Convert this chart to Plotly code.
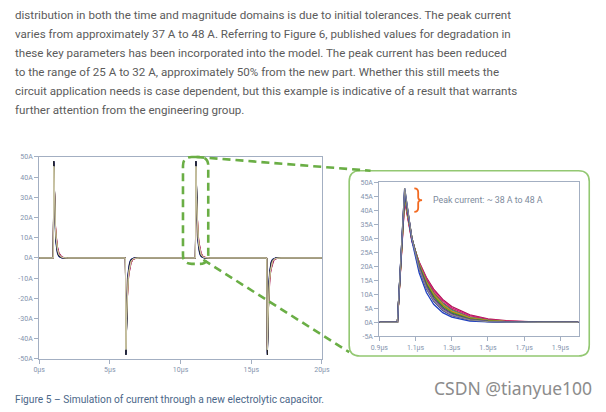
import plotly.graph_objects as go

W, H = 606, 412

# ---------------- data ----------------
# zoomed pulse (inset) time axis, µs
inset_t = [0.9, 1.0, 1.04, 1.08, 1.12, 1.16, 1.2, 1.25, 1.3, 1.4, 1.5, 1.6, 1.8, 2.0]
# Monte-Carlo current traces (A) for one positive pulse
run_01 = [0, 0, 48.0, 29.1, 17.7, 10.7, 6.5, 3.5, 1.9, 0.5, 0.2, 0.0, 0, 0]
run_02 = [0, 0, 47.5, 29.8, 18.9, 12.0, 7.6, 4.3, 2.4, 0.8, 0.3, 0.1, 0, 0]
run_03 = [0, 0, 47.0, 30.2, 19.8, 13.0, 8.5, 5.0, 3.0, 1.0, 0.4, 0.1, 0, 0]
run_04 = [0, 0, 46.5, 30.2, 20.2, 13.6, 9.1, 5.5, 3.3, 1.2, 0.5, 0.2, 0, 0]
run_05 = [0, 0, 46.0, 30.1, 20.5, 14.0, 9.6, 6.0, 3.7, 1.4, 0.6, 0.2, 0, 0]
run_06 = [0, 0, 45.5, 29.9, 20.8, 14.4, 10.0, 6.4, 4.0, 1.6, 0.7, 0.3, 0, 0]
run_07 = [0, 0, 45.0, 29.7, 20.9, 14.8, 10.4, 6.8, 4.4, 1.8, 0.8, 0.3, 0.1, 0]
run_08 = [0, 0, 44.5, 29.4, 21.0, 15.1, 10.8, 7.1, 4.7, 2.0, 0.9, 0.4, 0.1, 0]
run_09 = [0, 0, 44.0, 29.3, 21.4, 15.7, 11.5, 7.8, 5.2, 2.4, 1.1, 0.5, 0.1, 0]
run_10 = [0, 0, 43.5, 29.0, 21.6, 16.0, 11.9, 8.2, 5.7, 2.7, 1.3, 0.6, 0.1, 0]
run_11 = [0, 0, 48.0, 30.0, 19.2, 12.3, 7.9, 4.5, 2.6, 0.9, 0.3, 0.1, 0, 0]
run_12 = [0, 0, 45.5, 29.8, 20.7, 14.5, 10.1, 6.6, 4.2, 1.7, 0.7, 0.3, 0.1, 0]

# inset drawing order / colours
inset_runs = [run_10, run_09, run_08, run_12, run_07, run_06, run_05, run_04, run_03, run_02, run_01, run_11]
inset_colors = ["#b0134a", "#c8208a", "#d42a2a", "#d8c040", "#2a8a8a", "#e08a20",
                "#8a8a20", "#2e8b2e", "#6a2a9a", "#2a2a8a", "#2040c0", "#8a8a8a"]
# main-chart drawing order / colours (pale run on top, as in the picture)
main_runs = [run_10, run_08, run_06, run_04, run_03, run_02, run_09, run_05, run_01, run_11, run_07, run_12]
main_colors = ["#a01848", "#c03030", "#d0a020", "#3a7a3a", "#6a2a9a", "#2a2a7a",
               "#b02080", "#7a7a20", "#2a3aa0", "#222222", "#c8b860", "#cdc9b2"]

# pulse edges in the full simulation (µs) and their polarity
pulse_edges = [1.0, 6.1, 11.05, 16.1]
pulse_signs = [1, -1, 1, -1]
sim_end = 20.0

main_xticks = [0, 5, 10, 15, 20]
main_xtext = ["0µs", "5µs", "10µs", "15µs", "20µs"]
main_yticks = [-50, -40, -30, -20, -10, 0, 10, 20, 30, 40, 50]
main_ytext = ["-50A", "-40A", "-30A", "-20A", "-10A", "0A", "10A", "20A", "30A", "40A", "50A"]
inset_xticks = [0.9, 1.1, 1.3, 1.5, 1.7, 1.9]
inset_xtext = ["0.9µs", "1.1µs", "1.3µs", "1.5µs", "1.7µs", "1.9µs"]
inset_yticks = [-5, 0, 5, 10, 15, 20, 25, 30, 35, 40, 45, 50]
inset_ytext = ["-5A", "0A", "5A", "10A", "15A", "20A", "25A", "30A", "35A", "40A", "45A", "50A"]

paragraph = [
    "distribution in both the time and magnitude domains is due to initial tolerances. The peak current",
    "varies from approximately 37 A to 48 A. Referring to Figure 6, published values for degradation in",
    "these key parameters has been incorporated into the model. The peak current has been reduced",
    "to the range of 25 A to 32 A, approximately 50% from the new part. Whether this still meets the",
    "circuit application needs is case dependent, but this example is indicative of a result that warrants",
    "further attention from the engineering group.",
]
caption = "Figure 5 \u2013 Simulation of current through a new electrolytic capacitor."
peak_note = "Peak current: ~ 38 A to 48 A"
watermark = "CSDN @tianyue100"

# ---------------- helpers ----------------
def px(x):
    return x / W

def py(y):
    return 1 - y / H

def ppath(cmds):
    s = ""
    for cmd, ps in cmds:
        s += cmd + " " + " ".join(f"{px(a):.5f},{py(b):.5f}" for a, b in ps) + " "
    return s

def rrect(x0, y0, x1, y1, r):
    return ppath([
        ("M", [(x0 + r, y0)]), ("L", [(x1 - r, y0)]), ("Q", [(x1, y0), (x1, y0 + r)]),
        ("L", [(x1, y1 - r)]), ("Q", [(x1, y1), (x1 - r, y1)]), ("L", [(x0 + r, y1)]),
        ("Q", [(x0, y1), (x0, y1 - r)]), ("L", [(x0, y0 + r)]), ("Q", [(x0, y0), (x0 + r, y0)]),
    ]) + "Z"

AXC = "#a3afc2"
TKC = "#8493ad"

fig = go.Figure()

# main chart traces (full 20 µs)
for vals, col in zip(main_runs, main_colors):
    xs, ys = [0.0], [0.0]
    for e, sgn in zip(pulse_edges, pulse_signs):
        for t, v in zip(inset_t[1:], vals[1:]):
            xs.append(e + (t - 1.0))
            ys.append(sgn * v)
    xs.append(sim_end)
    ys.append(0.0)
    fig.add_trace(go.Scatter(x=xs, y=ys, mode="lines", line=dict(color=col, width=1),
                             xaxis="x", yaxis="y", showlegend=False, hoverinfo="skip"))

# inset traces
for vals, col in zip(inset_runs, inset_colors):
    fig.add_trace(go.Scatter(x=inset_t, y=vals, mode="lines", line=dict(color=col, width=1.3),
                             xaxis="x2", yaxis="y2", showlegend=False, hoverinfo="skip"))

axis_common = dict(showgrid=False, zeroline=False, showline=True, linecolor=AXC, linewidth=1,
                   mirror=True, ticks="outside", ticklen=4, tickcolor=AXC, tickwidth=1,
                   tickfont=dict(family="Roboto", size=7, color=TKC), fixedrange=True)

fig.update_layout(
    width=W, height=H, margin=dict(l=0, r=0, t=0, b=0),
    paper_bgcolor="white", plot_bgcolor="rgba(0,0,0,0)",
    xaxis=dict(domain=[px(31), px(322)], range=[0, 20], anchor="y",
               tickmode="array", tickvals=main_xticks, ticktext=main_xtext, **axis_common),
    yaxis=dict(domain=[py(362), py(156)], range=[-50, 50], anchor="x",
               tickmode="array", tickvals=main_yticks, ticktext=main_ytext, **axis_common),
    xaxis2=dict(domain=[px(381), px(586)], range=[0.9, 2.0], anchor="y2",
                tickmode="array", tickvals=inset_xticks, ticktext=inset_xtext, **axis_common),
    yaxis2=dict(domain=[py(339), py(182)], range=[-5, 50], anchor="x2",
                tickmode="array", tickvals=inset_yticks, ticktext=inset_ytext, **axis_common),
)

GREEN = "#6aae45"
shapes = [
    dict(type="path", xref="paper", yref="paper", path=rrect(350, 170, 597, 359, 11),
         line=dict(color="#93c872", width=1.6), layer="below"),
    dict(type="path", xref="paper", yref="paper", path=rrect(179, 156, 205, 265, 9),
         line=dict(color=GREEN, width=2.6, dash="8px,5px"), layer="above"),
    dict(type="path", xref="paper", yref="paper", path=ppath([("M", [(193, 156)]), ("L", [(372, 170)])]),
         line=dict(color=GREEN, width=2.6, dash="8px,5px"), layer="above"),
    dict(type="path", xref="paper", yref="paper", path=ppath([("M", [(200, 261)]), ("L", [(350, 355)])]),
         line=dict(color=GREEN, width=2.6, dash="8px,5px"), layer="above"),
    dict(type="path", xref="paper", yref="paper",
         path=ppath([("M", [(417, 188)]), ("Q", [(421, 188), (421, 192)]), ("L", [(421, 197)]),
                     ("Q", [(421, 200), (425, 200)]), ("Q", [(421, 200), (421, 203)]),
                     ("L", [(421, 208)]), ("Q", [(421, 212), (417, 212)])]),
         line=dict(color="#f26a21", width=1.8), layer="above"),
]
fig.update_layout(shapes=shapes)

annotations = []
line_y = [11, 30.5, 50, 69.5, 89, 108.5]
for txt, yy in zip(paragraph, line_y):
    annotations.append(dict(text=txt, x=px(4), y=py(yy), xref="paper", yref="paper",
                            xanchor="left", yanchor="middle", showarrow=False,
                            font=dict(family="Roboto", size=11.6, color="#5b5b5b")))
annotations.append(dict(text=caption, x=px(4), y=py(403), xref="paper", yref="paper",
                        xanchor="left", yanchor="middle", showarrow=False,
                        font=dict(family="Roboto", size=10.2, color="#4b6789")))
annotations.append(dict(text=peak_note, x=px(434), y=py(200), xref="paper", yref="paper",
                        xanchor="left", yanchor="middle", showarrow=False,
                        font=dict(family="Roboto", size=8.8, color="#7d8a9c")))
annotations.append(dict(text=watermark, x=px(602), y=py(392), xref="paper", yref="paper",
                        xanchor="right", yanchor="middle", showarrow=False,
                        font=dict(family="Noto Sans", size=17.5, color="#8c8c8c")))
fig.update_layout(annotations=annotations)

fig.write_html("out.html")
